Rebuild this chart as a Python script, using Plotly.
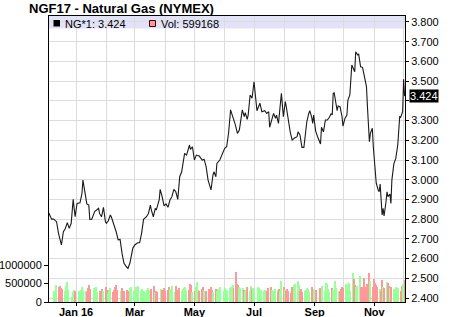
import plotly.graph_objects as go
import pandas as pd

title_text = "NGF17 - Natural Gas (NYMEX)"
last_price_label = "NG*1: 3.424"
last_vol_label = "Vol: 599168"
last_price = 3.424

price_dates = [
"2015-12-04","2015-12-07","2015-12-09","2015-12-12","2015-12-14","2015-12-17","2015-12-19","2015-12-21","2015-12-23","2015-12-25",
"2015-12-27","2015-12-29","2015-12-31","2016-01-02","2016-01-05","2016-01-07","2016-01-08","2016-01-12","2016-01-14","2016-01-15",
"2016-01-17","2016-01-20","2016-01-24","2016-01-25","2016-01-27","2016-01-29","2016-01-31","2016-02-01","2016-02-03","2016-02-05",
"2016-02-06","2016-02-09","2016-02-11","2016-02-13","2016-02-15","2016-02-17","2016-02-19","2016-02-21","2016-02-23","2016-02-25",
"2016-02-28","2016-03-01","2016-03-04","2016-03-06","2016-03-08","2016-03-10","2016-03-13","2016-03-15","2016-03-17","2016-03-18",
"2016-03-20","2016-03-22","2016-03-23","2016-03-26","2016-03-27","2016-03-29","2016-03-31","2016-04-02","2016-04-04","2016-04-06",
"2016-04-08","2016-04-10","2016-04-12","2016-04-14","2016-04-16","2016-04-18","2016-04-21","2016-04-23","2016-04-26","2016-04-27",
"2016-04-29","2016-05-01","2016-05-03","2016-05-06","2016-05-09","2016-05-11","2016-05-13","2016-05-15","2016-05-18","2016-05-20",
"2016-05-21","2016-05-23","2016-05-24","2016-05-27","2016-05-30","2016-06-01","2016-06-03","2016-06-05","2016-06-07","2016-06-10",
"2016-06-12","2016-06-14","2016-06-16","2016-06-18","2016-06-19","2016-06-21","2016-06-22","2016-06-24","2016-06-25","2016-06-27",
"2016-06-29","2016-06-30","2016-07-01","2016-07-04","2016-07-05","2016-07-07","2016-07-09","2016-07-11","2016-07-12","2016-07-14",
"2016-07-16","2016-07-17","2016-07-19","2016-07-21","2016-07-23","2016-07-24","2016-07-26","2016-07-28","2016-07-29","2016-07-31",
"2016-08-02","2016-08-03","2016-08-05","2016-08-07","2016-08-09","2016-08-11","2016-08-14","2016-08-15","2016-08-17","2016-08-19",
"2016-08-21","2016-08-23","2016-08-24","2016-08-26","2016-08-27","2016-08-29","2016-08-30","2016-08-31","2016-09-02","2016-09-04",
"2016-09-06","2016-09-07","2016-09-08","2016-09-10","2016-09-12","2016-09-14","2016-09-16","2016-09-18","2016-09-19","2016-09-20",
"2016-09-21","2016-09-24","2016-09-25","2016-09-27","2016-09-29","2016-09-30","2016-10-02","2016-10-04","2016-10-05","2016-10-07",
"2016-10-09","2016-10-11","2016-10-12","2016-10-13","2016-10-15","2016-10-16","2016-10-18","2016-10-20","2016-10-22","2016-10-24",
"2016-10-25","2016-10-26","2016-10-27","2016-10-28","2016-10-30","2016-10-31","2016-11-02","2016-11-03","2016-11-05","2016-11-06",
"2016-11-07","2016-11-08","2016-11-09","2016-11-10","2016-11-11","2016-11-13","2016-11-14","2016-11-15","2016-11-17","2016-11-18",
"2016-11-19","2016-11-21","2016-11-23","2016-11-25","2016-11-27","2016-11-28","2016-11-30","2016-12-01","2016-12-02",
]
price_vals = [
2.832,2.800,2.800,2.787,2.728,2.669,2.736,2.753,2.782,2.753,
2.779,2.900,2.812,2.880,2.883,2.931,2.998,2.877,2.871,2.799,
2.800,2.838,2.855,2.829,2.812,2.860,2.787,2.779,2.792,2.821,
2.812,2.770,2.736,2.695,2.697,2.626,2.576,2.562,2.550,2.576,
2.652,2.669,2.680,2.680,2.728,2.799,2.812,2.829,2.871,2.846,
2.812,2.855,2.846,2.897,2.951,2.914,2.867,2.877,2.860,2.897,
2.914,2.951,2.939,2.900,3.015,3.040,3.134,3.125,3.176,3.154,
3.167,3.100,3.125,3.120,3.100,3.103,3.066,2.998,2.948,3.024,
3.040,3.015,3.083,3.100,3.142,3.159,3.167,3.238,3.354,3.311,
3.277,3.235,3.252,3.320,3.354,3.320,3.340,3.306,3.328,3.430,
3.413,3.455,3.497,3.350,3.362,3.388,3.345,3.350,3.350,3.336,
3.345,3.266,3.303,3.336,3.311,3.328,3.286,3.404,3.438,3.320,
3.396,3.370,3.303,3.243,3.201,3.210,3.218,3.243,3.227,3.164,
3.164,3.269,3.294,3.336,3.350,3.317,3.286,3.328,3.248,3.218,
3.188,3.181,3.266,3.243,3.303,3.303,3.317,3.336,3.328,3.438,
3.441,3.350,3.374,3.370,3.320,3.272,3.311,3.328,3.404,3.430,
3.582,3.553,3.548,3.649,3.633,3.638,3.573,3.570,3.522,3.472,
3.370,3.269,3.193,3.235,3.261,3.167,3.066,2.982,2.948,2.939,
2.978,2.863,2.821,2.855,2.816,2.888,2.939,2.914,2.927,2.880,
2.998,3.080,3.108,3.176,3.320,3.317,3.345,3.509,3.424,
]

# daily volume in thousands of contracts, one per trading day
vol_k = [
290,160,450,420,410,440,380,360,300,430,540,330,140,270,320,290,300,260,330,420,
300,290,260,390,450,350,380,330,400,260,300,280,350,360,310,420,330,250,340,370,
260,340,410,470,330,300,380,250,290,340,200,300,380,420,290,330,410,260,440,310,
360,280,300,250,320,380,300,330,350,430,280,310,260,360,340,300,380,290,330,420,
350,300,430,280,440,330,260,390,310,350,370,410,300,330,470,500,450,280,300,420,
540,330,300,360,420,300,250,290,360,320,400,330,280,360,300,350,320,400,290,370,
330,300,380,420,300,470,380,820,480,450,420,370,390,340,300,330,410,300,430,350,
380,300,420,390,250,340,290,320,300,310,380,420,340,310,300,360,330,280,350,300,
560,410,330,300,350,290,250,400,330,450,490,560,470,300,360,280,310,330,390,360,
270,400,330,350,300,340,380,260,320,430,300,520,500,350,280,380,320,340,560,390,
300,270,350,420,370,480,330,460,520,300,780,640,470,410,430,700,410,350,400,650,
420,480,300,800,560,420,630,520,460,400,350,300,610,400,370,540,520,430,380,420,
350,320,400,380,300,440,480,310,599.168,
]
holidays = ["2015-12-25", "2016-01-01", "2016-01-18", "2016-02-15", "2016-03-25",
            "2016-05-30", "2016-07-04", "2016-09-05", "2016-11-24"]

month_labels = {"Jan": "Jan 16"}
price_ticks = [2.4, 2.5, 2.6, 2.7, 2.8, 2.9, 3.0, 3.1, 3.2, 3.3, 3.4, 3.5, 3.6, 3.7, 3.8]
price_tick_text = ["2.400", "2.500", "2.600", "2.700", "2.800", "2.900", "3.000", "3.100",
                   "3.200", "3.300", "", "3.500", "3.600", "3.700", "3.800"]
vol_ticks = [0, 500000, 1000000]
vol_tick_text = ["0", "500000", "1000000"]

# ---- derived ----
vol = [v * 1000 for v in vol_k]
vol_dates = pd.bdate_range(end="2016-12-02", periods=len(vol), freq="C", holidays=holidays)
ps = pd.DataFrame({"d": pd.to_datetime(price_dates), "p": price_vals})
ps["chg"] = ps["p"].diff().fillna(0)
vd = pd.DataFrame({"d": vol_dates, "v": vol})
m = pd.merge_asof(vd, ps, on="d")
colors = ["#99ff99" if c >= 0 else "#ff9999" for c in m["chg"]]

FONT = "Liberation Sans, Arial, sans-serif"
W, H = 450, 317
L, R, T, B = 49, 45, 16, 15
PW, PH = W - L - R, H - T - B

def px(x):
    return (x - L) / PW

def py(y):
    return (H - B - y) / PH

fig = go.Figure()
fig.add_trace(go.Bar(x=vol_dates, y=vol, marker=dict(color=colors, line=dict(width=0)),
                     yaxis="y", showlegend=False, hoverinfo="skip"))
fig.add_trace(go.Scatter(x=price_dates, y=price_vals, mode="lines",
                         line=dict(color="#1a1a1a", width=1.1), yaxis="y2",
                         showlegend=False))

grid = "#dcdcdc"
fig.update_layout(
    width=W, height=H,
    margin=dict(l=L, r=R, t=T, b=B, pad=0, autoexpand=False),
    paper_bgcolor="white", plot_bgcolor="white",
    bargap=0,
    font=dict(family=FONT, size=11, color="black"),
    xaxis=dict(
        type="date", range=["2015-12-04 07:00", "2016-12-02 10:00"], automargin=False,
        tick0="2016-01-01", dtick="M2", tickformat="%b", labelalias=month_labels,
        ticks="outside", ticklen=3, tickcolor="black", ticklabelstandoff=-3,
        tickfont=dict(family=FONT, size=11, weight="bold"),
        showgrid=True, gridcolor=grid, gridwidth=1,
        minor=dict(dtick="M1", tick0="2015-12-01", showgrid=True, gridcolor=grid, ticks=""),
        showline=True, linecolor="black", linewidth=1, mirror=True, zeroline=False,
    ),
    yaxis=dict(
        range=[0, 7.79e6], tickvals=vol_ticks, ticktext=vol_tick_text, automargin=False,
        ticks="outside", ticklen=4, tickcolor="black", showgrid=False,
        showline=True, linecolor="black", linewidth=1, zeroline=False,
        tickfont=dict(size=11),
    ),
    yaxis2=dict(
        overlaying="y", side="right", range=[2.3797, 3.8304], automargin=False,
        tickvals=price_ticks, ticktext=price_tick_text,
        ticks="outside", ticklen=3, tickcolor="black",
        showgrid=True, gridcolor=grid, gridwidth=1,
        showline=True, linecolor="black", linewidth=1, zeroline=False,
        tickfont=dict(size=11),
    ),
    shapes=[
        dict(type="rect", xref="paper", yref="paper", x0=0, x1=1, y0=py(28.5), y1=1,
             fillcolor="#e2e2f8", line=dict(width=0), layer="between"),
        dict(type="rect", xref="paper", yref="paper", x0=px(53.5), x1=px(60), y0=py(26.5), y1=py(20),
             fillcolor="black", line=dict(width=0)),
        dict(type="rect", xref="paper", yref="paper", x0=px(149.5), x1=px(155.5), y0=py(26.5), y1=py(20.5),
             fillcolor="#ff9999", line=dict(width=1, color="#400000")),
    ],
    annotations=[
        dict(text=title_text, xref="paper", yref="paper", x=px(27), y=py(8.5),
             xanchor="left", yanchor="middle", showarrow=False,
             font=dict(family=FONT, size=13, weight="bold", color="black")),
        dict(text=last_price_label, xref="paper", yref="paper", x=px(63), y=py(23.5),
             xanchor="left", yanchor="middle", showarrow=False, font=dict(size=11)),
        dict(text=last_vol_label, xref="paper", yref="paper", x=px(159), y=py(23.5),
             xanchor="left", yanchor="middle", showarrow=False, font=dict(size=11)),
        dict(text=f"{last_price:.3f}", xref="paper", yref="y2", x=1, y=last_price,
             xanchor="left", yanchor="middle", xshift=4, showarrow=False,
             bgcolor="black", borderpad=0, font=dict(size=11, color="white")),
    ],
)

fig.write_html("out.html")
